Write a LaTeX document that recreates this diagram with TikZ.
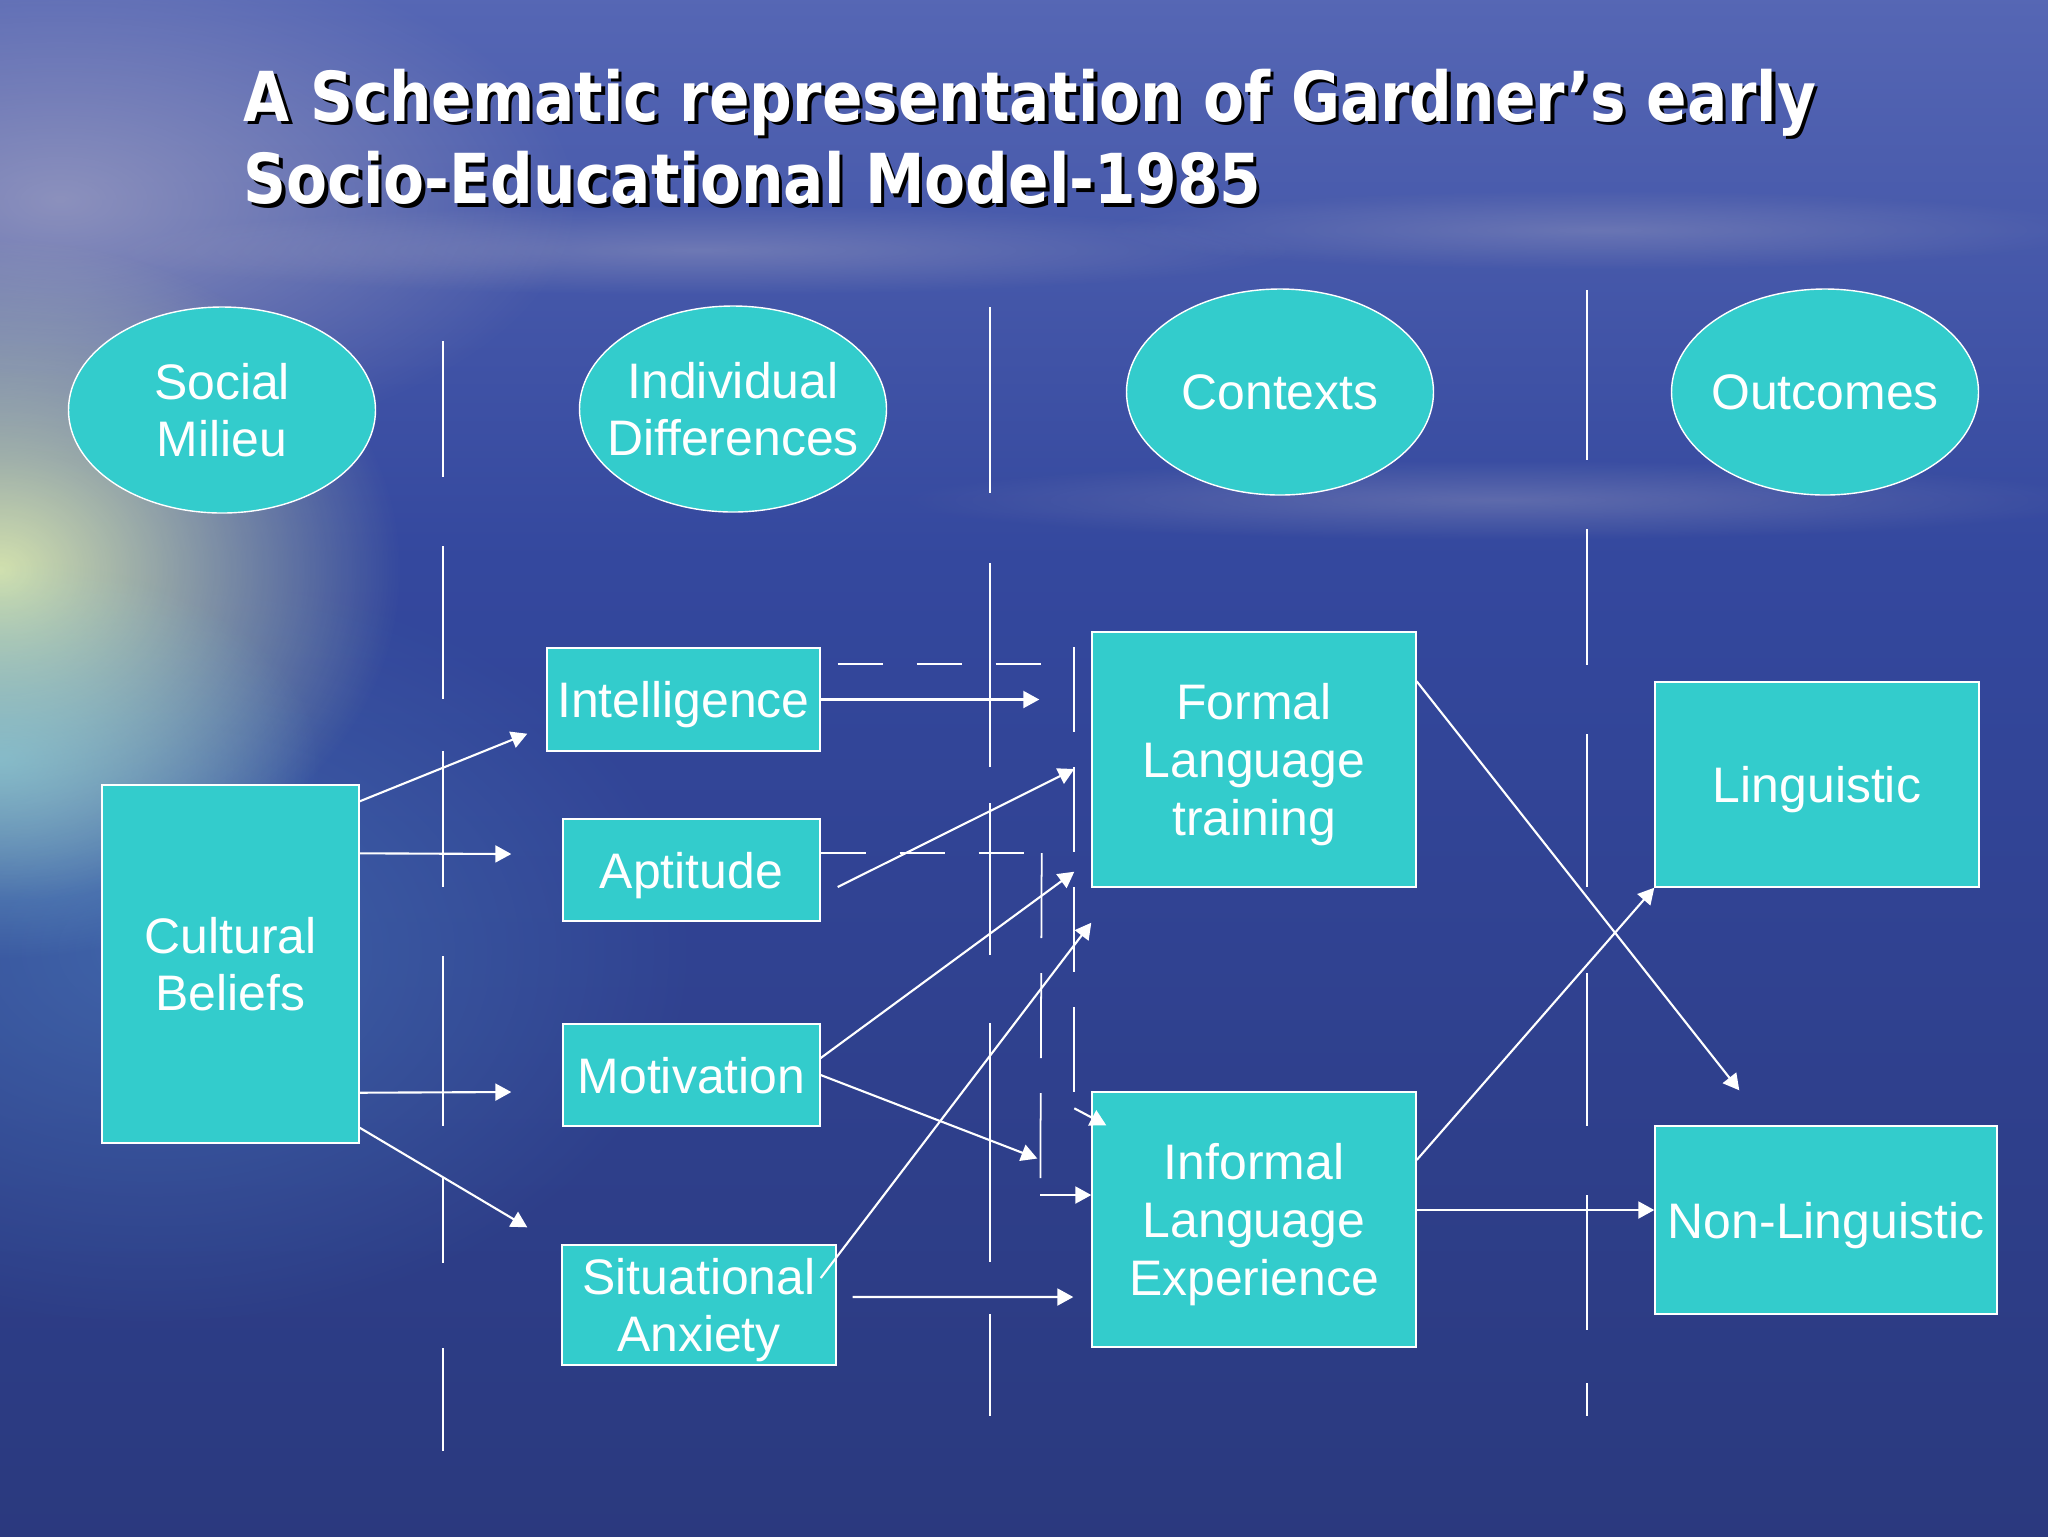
\documentclass[tikz,border=0pt]{standalone}
\usepackage{fontspec}
\setmainfont{Liberation Sans}
\newfontfamily\titlefont[FakeStretch=0.867]{DejaVu Sans}
\usetikzlibrary{shapes.geometric, arrows.meta, fadings}

\definecolor{boxteal}{RGB}{51,204,204}
\definecolor{bgA}{HTML}{22264F}
\definecolor{bgB}{HTML}{262C62}
\definecolor{bgC}{HTML}{2B3A80}
\definecolor{bgD}{HTML}{34489E}
\definecolor{bgE}{HTML}{5566B4}
\definecolor{bgF}{HTML}{7A86C4}
\definecolor{bgG}{HTML}{6470BC}
\definecolor{bgH}{HTML}{6A74C2}
\definecolor{bgI}{HTML}{5560B8}
\definecolor{bgJ}{HTML}{4E58B2}
\definecolor{glowlime}{HTML}{E4F2B0}
\definecolor{glowcyan}{HTML}{8FD8E0}
\definecolor{seablue}{HTML}{4A7AB8}
\definecolor{haze}{HTML}{B8B4C8}

\pgfdeclareverticalshading{seasky}{100bp}{color(0bp)=(bgA); color(23.6bp)=(bgB);
  color(53.6bp)=(bgC); color(83.6bp)=(bgD); color(101.6bp)=(bgE); color(107.6bp)=(bgF);
  color(115.6bp)=(bgG); color(128.6bp)=(bgH); color(141.6bp)=(bgI); color(153.6bp)=(bgJ)}
\tikzfading[name=glowfade, inner color=transparent!0, outer color=transparent!100]

\newcommand{\bodyfont}{\fontsize{14.2}{16.4}\selectfont}
\newcommand{\dropshadow}[1]{\makebox[0pt][l]{\hspace{1pt}\raisebox{-1pt}{\textcolor{black}{#1}}}#1}

\tikzset{
  boxnode/.style={draw=white, line width=0.4pt, fill=boxteal, text=white,
    inner sep=0.5mm, align=center, text depth=0pt, font=\bodyfont},
  bubble/.style={boxnode, ellipse, inner sep=-3mm, minimum width=30.7mm, minimum height=20.6mm},
  link/.style={draw=white, line width=0.6pt, -{Triangle[length=1.6mm, width=1.7mm]}},
  dashlink/.style={draw=white, line width=0.5pt, dash pattern=on 4.5mm off 3.4mm},
  longdash/.style={draw=white, line width=0.5pt, dash pattern=on 8.5mm off 3.5mm},
  divider/.style={draw=white, line width=0.4pt}
}

\begin{document}
\begin{tikzpicture}[x=0.1mm, y=-0.1mm]
      \useasboundingbox (0,0) rectangle (2048,1536);

      % Background: sky, horizon and sea
      \begin{scope}
        \clip (0,0) rectangle (2048,1536);
        \shade[shading=seasky] (0,0) rectangle (2048,1536);
        \fill[haze, opacity=0.6, path fading=glowfade] (60,200) ellipse [x radius=520, y radius=260];
        \fill[haze, opacity=0.35, path fading=glowfade] (700,250) ellipse [x radius=600, y radius=45];
        \fill[haze, opacity=0.3, path fading=glowfade] (1600,230) ellipse [x radius=500, y radius=40];
        \fill[haze, opacity=0.3, path fading=glowfade] (1500,500) ellipse [x radius=600, y radius=40];
        \fill[seablue, opacity=0.6, path fading=glowfade] (150,950) ellipse [x radius=550, y radius=380];
        \fill[glowlime, opacity=0.9, path fading=glowfade] (0,570) ellipse [x radius=400, y radius=330];
        \fill[glowcyan, opacity=0.6, path fading=glowfade] (0,760) ellipse [x radius=320, y radius=200];
      \end{scope}

      % Title
      \node[anchor=north west, inner sep=0, align=left, text=white,
        font=\titlefont\bfseries\fontsize{19.6}{23.6}\selectfont] (title) at (243,68)
        {\dropshadow{A Schematic representation of Gardner’s early}\\
         \dropshadow{Socio-Educational Model-1985}};

      % Column dividers (x / list of segments)
      \foreach \xx/\segs in {443/{341/477,546/699,751/887,956/1126,1178/1263,1348/1451},
                             990/{307/493,563/767,803/955,1023/1262,1314/1416},
                             1587/{290/460,529/665,734/887,973/1126,1195/1330,1383/1416}} {
          \foreach \ya/\yb in \segs {
              \draw[divider] (\xx,\ya) -- (\xx,\yb);
          }
      }

      % Column headings
      \node[bubble] (social) at (222,410) {Social\\Milieu};
      \node[bubble] (indiv) at (733,409) {Individual\\Differences};
      \node[bubble] (ctx) at (1280,392) {Contexts};
      \node[bubble] (outc) at (1825,392) {Outcomes};

      % Boxes
      \node[boxnode, minimum width=25.7mm, minimum height=35.8mm] (cult) at (230.5,964) {Cultural\\Beliefs};
      \node[boxnode, minimum width=27.3mm, minimum height=10.3mm] (intel) at (683.5,699.5) {Intelligence};
      \node[boxnode, minimum width=25.7mm, minimum height=10.2mm] (apt) at (691.5,870) {Aptitude};
      \node[boxnode, minimum width=25.7mm, minimum height=10.2mm] (motiv) at (691.5,1075) {Motivation};
      \node[boxnode, minimum width=27.4mm, minimum height=12mm] (anx) at (699,1305) {Situational\\Anxiety};
      \node[boxnode, minimum width=32.4mm, minimum height=25.5mm] (formal) at (1254,759.5) {Formal\\Language\\training};
      \node[boxnode, minimum width=32.4mm, minimum height=25.5mm] (informal) at (1254,1219.5) {Informal\\Language\\Experience};
      \node[boxnode, minimum width=32.4mm, minimum height=20.5mm] (ling) at (1817,784.5) {Linguistic};
      \node[boxnode, minimum width=34.2mm, minimum height=18.8mm] (nonling) at (1826,1220) {Non-Linguistic};

      % Social milieu -> individual differences
      \draw[link] ([shift={(0,17)}]cult.north east) -- ([shift={(-19,-18)}]intel.south west);
      \draw[link] ([shift={(0,69)}]cult.north east) -- ([shift={(-51,-16)}]apt.west);
      \draw[link] ([shift={(0,-51)}]cult.south east) -- ([shift={(-51,17)}]motiv.west);
      \draw[link] ([shift={(0,-16)}]cult.south east) -- ([shift={(-34,-17)}]anx.north west);

      % Individual differences -> contexts
      \draw[link] (intel.east) -- ([shift={(-52,0)}]formal.west |- intel.east);
      \draw[link] ([shift={(17,17)}]apt.east) -- ([shift={(-17,9.5)}]formal.west);
      \draw[link] ([shift={(0,-17)}]motiv.east) -- ([shift={(-17,-16)}]formal.south west);
      \draw[link] (motiv.east) -- ([shift={(-54,-61)}]informal.west);
      \draw[link] ([shift={(-16,-27)}]anx.east) -- ([shift={(0,35)}]formal.south west);
      \draw[link] ([shift={(16,-8)}]anx.east) -- ([shift={(-18,77.5)}]informal.west);

      % dashed paths into informal experience
      \draw[dashlink] ([shift={(17,17)}]intel.north east) -- ++(204,0);
      \draw[dashlink] ([shift={(0,-17)}]apt.east) -- ++(205,0);
      \coordinate (fbend) at ([shift={(-17,17)}]informal.north west);
      \coordinate (abend) at ([shift={(-51,-24.5)}]informal.west);
      \draw[longdash] ([shift={(-17,16)}]formal.north west) -- (fbend);
      \draw[link] (fbend) -- ([shift={(15,34)}]informal.north west);
      \draw[longdash] ([shift={(221,-17)}]apt.east) -- (abend);
      \draw[link] (abend) -- (informal.west |- abend);

      % Contexts -> outcomes
      \draw[link] ([shift={(0,50)}]formal.north east) -- ([shift={(85,-35)}]nonling.north west);
      \draw[link] ([shift={(0,-59.5)}]informal.east) -- (ling.south west);
      \draw[link] ([shift={(0,-9.5)}]informal.east) -- ([shift={(0,-10)}]nonling.west);

    \end{tikzpicture}
\end{document}
